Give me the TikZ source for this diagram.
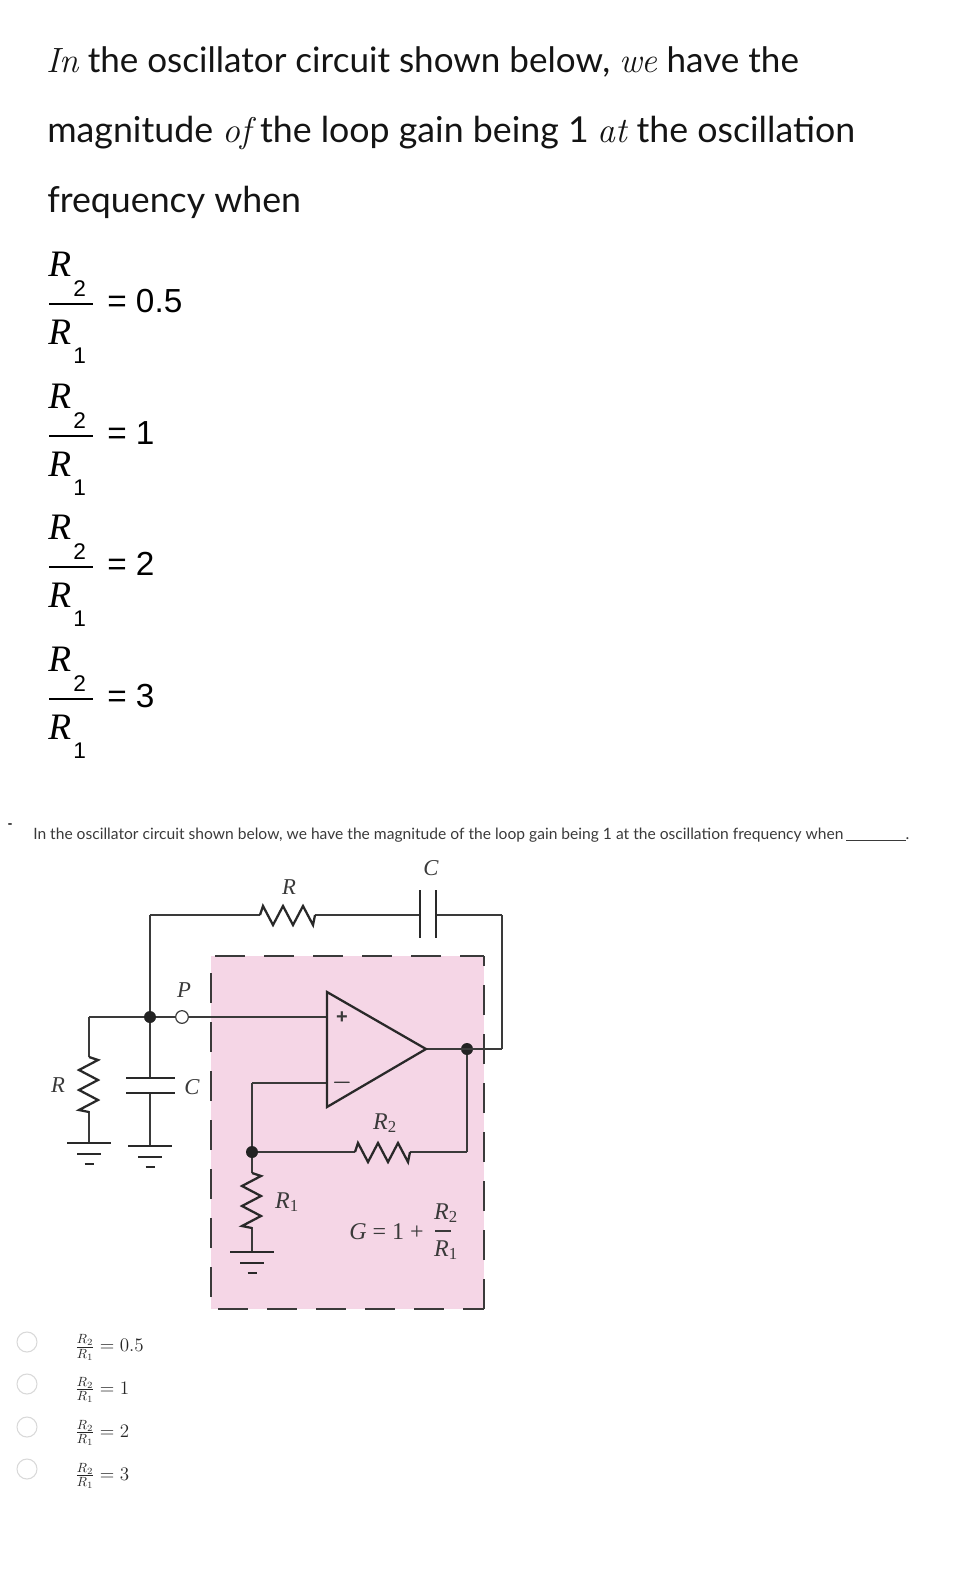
\documentclass[tikz,border=0pt]{standalone}
\usepackage{fix-cm}
\usepackage{amsmath}
\usepackage{fontspec}
\setmainfont{Lato}
\newfontfamily\timesfont{Liberation Serif}
\newfontfamily\arialfont{Liberation Sans}
\newfontfamily\lmfont{Latin Modern Roman}
\definecolor{boxpink}{HTML}{F5D6E6}
\definecolor{inkgrey}{HTML}{3A3A3A}
\tikzset{
  wire/.style={draw=inkgrey,line width=0.9pt},
  plate/.style={draw=inkgrey!70!black,line width=1.9pt},
  res/.style={draw=inkgrey!70!black,line width=1.7pt,line join=miter},
  dot/.style={circle,fill=inkgrey!60!black,inner sep=0pt,minimum size=9pt},
  lab/.style={text=inkgrey,inner sep=0pt,font=\fontsize{18}{20}\timesfont\selectfont},
  title/.style={anchor=base west,inner sep=0pt,text=black!92,font=\fontsize{26.8}{30}\selectfont},
  signlab/.style={inner sep=0pt,text=inkgrey,font=\fontsize{15}{15}\arialfont\bfseries\selectfont},
  zigres/.pic={\draw[res] (0,0) -- (3,-9) -- (13,10) -- (23,-9) -- (33,10) -- (43,-9) -- (53,10) -- (55,0);},
  earth/.pic={\draw[plate,line width=1.5pt] (-22,0) -- (22,0) (-12,10.5) -- (12,10.5) (-4.5,21) -- (4.5,21);}
}
\newcommand{\Rsub}[1]{\textit{R}\textsubscript{#1}}
\newcommand{\slant}[1]{{\lmfont\itshape #1}}
\begin{document}
\begin{tikzpicture}[x=0.75pt,y=-0.75pt]
\useasboundingbox (0,0) rectangle (958,1589);
%\draw[help lines] (0,0) grid (958,1589);
\node[title,font=\fontsize{26.3}{30}\selectfont] (line1) at (46,72) {\slant{In} the oscillator circuit shown below, \slant{we} have the};
\node[title] (line2) at (47,142) {magnitude \slant{of} the loop gain being 1 \slant{at} the oscillation};
\node[title] (line3) at (47,212) {frequency when};

\foreach \i/\b/\v in {1/304/0.5, 2/436/1, 3/567/2, 4/699/3} {
  \draw[black,line width=0.9pt] (49,\b) -- (93,\b);
  \node[anchor=base west,inner sep=0pt,font=\fontsize{28}{30}\timesfont\itshape\selectfont] (ra\i) at (48,\b-28) {R};
  \node[anchor=base west,inner sep=0pt,font=\fontsize{17}{19}\arialfont\selectfont] (sa\i) at (73,\b-8) {2};
  \node[anchor=base west,inner sep=0pt,font=\fontsize{28}{30}\timesfont\itshape\selectfont] (rb\i) at (48,\b+40) {R};
  \node[anchor=base west,inner sep=0pt,font=\fontsize{17}{19}\arialfont\selectfont] (sb\i) at (73,\b+59) {1};
  \node[anchor=base west,inner sep=0pt,font=\fontsize{25}{28}\arialfont\selectfont] (val\i) at (107,\b+8) {= \v};
}

\node[inner sep=0pt,font=\fontsize{10}{10}\selectfont\bfseries] (tick) at (10,826) {-};
\node[anchor=base west,inner sep=0pt,text=inkgrey,font=\fontsize{11.7}{14}\selectfont] (ques) at (33,839) {In the oscillator circuit shown below, we have the magnitude of the loop gain being 1 at the oscillation frequency when};
\node[anchor=base west,inner sep=0pt,text=inkgrey,font=\fontsize{12}{14}\selectfont] (blank) at (846,839) {\rule[-1pt]{44.5pt}{0.5pt}.};

\fill[boxpink] (211,956) rectangle (484,1309);
\foreach \a/\b/\c/\d in {215/956/484/956, 484/1309/484/956, 218/1309/484/1309, 211/1297/211/956}
  \draw[draw=inkgrey,line width=1pt,dash pattern=on 22.5pt off 14.25pt] (\a,\b) -- (\c,\d);

\foreach \n/\x/\y in {tl/150/915, ra/260/915, rb/315/915, ca/420/915, cb/436/915, tr/502/915, fr/502/1049,
  pa/89/1017, la/89/1057, lb/89/1111, lg/89/1143, pb/150/1078, pc/150/1093, pg/150/1146,
  ip/327/1017, im/327/1083, mc/252/1083, rc/355/1152, rd/410/1152, oc/467/1152, oa/426/1049,
  sa/252/1173, sb/252/1227, sg/252/1252}
  \coordinate (\n) at (\x,\y);

\node[dot] (ja) at (150,1017) {};
\node[dot] (jo) at (467,1049) {};
\node[dot] (jm) at (252,1152) {};
\node[circle,draw=inkgrey,fill=white,line width=0.9pt,inner sep=0pt,minimum size=9.5pt] (pt) at (182,1017) {};

\foreach \s/\t in {ja/tl, tl/ra, rb/ca, cb/tr, tr/fr, fr/oa, pa/ja, pa/la, lb/lg, ja/pb, pc/pg, ja/pt, pt/ip, im/mc, mc/jm, jm/rc, rd/oc, oc/jo, jm/sa, sb/sg}
  \draw[wire] (\s) -- (\t);

\pic at (ra) {zigres};
\pic at (rc) {zigres};
\pic[rotate=-90] at (la) {zigres};
\pic[rotate=-90] at (sa) {zigres};
\pic at (lg) {earth};
\pic at (pg) {earth};
\pic at (sg) {earth};

\foreach \n/\x/\y/\u/\v in {pl1/420/890/420/938, pl2/436/890/436/938, pl3/126/1078/175/1078, pl4/126/1093/175/1093}
  \draw[plate] (\x,\y) -- (\u,\v);

\draw[res] (327,992) -- (426,1049) -- (327,1107) -- cycle;
\node[signlab] (plus) at (342,1018) {+};
\node[signlab,font=\fontsize{17}{17}\selectfont\boldmath] (minus) at (342,1083) {$-$};

\foreach \n/\x/\y/\t in {lr/289/887/R, lc/431/868/C, lp/184/990/P, lrr/58/1085/R, lcc/192/1087/C}
  \node[lab,font=\fontsize{17}{19}\timesfont\itshape\selectfont] (\n) at (\x,\y) {\t};
\node[lab] (lr2) at (385,1123) {\Rsub{2}};
\node[lab] (lr1) at (287,1202) {\Rsub{1}};
\node[lab] (lg1) at (386.5,1232) {\textit{G} = 1 +};
\node[lab] (fa) at (446,1213) {\Rsub{2}};
\node[lab] (fb) at (446,1250) {\Rsub{1}};
\draw[inkgrey,line width=0.8pt] (435,1231) -- (451,1231);

\foreach \i/\y/\b/\v in {1/1342/1347.5/0.5, 2/1384/1390/1, 3/1427/1433/2, 4/1469/1476/3} {
  \node[circle,draw=black!15,line width=0.8pt,inner sep=0pt,minimum size=15pt] (radio\i) at (27,\y) {};
  \node[anchor=west,inner sep=0pt,text=black!85,font=\fontsize{14.3}{16}\selectfont] (opt\i) at (75,\b) {$\frac{R_2}{R_1}=\v$};
}
\end{tikzpicture}
\end{document}
